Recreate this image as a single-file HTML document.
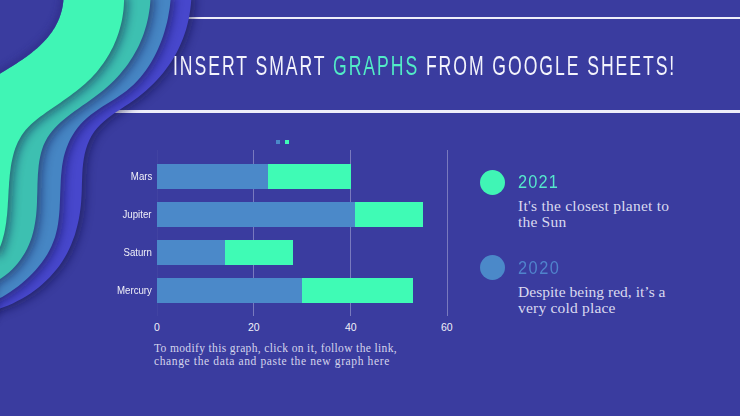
<!DOCTYPE html>
<html><head><meta charset="utf-8"><style>
html,body{margin:0;padding:0}
body{width:740px;height:416px;overflow:hidden;position:relative;background:#3a3c9f;font-family:"Liberation Sans",sans-serif}
.hline{position:absolute;height:2px;background:#eeeefa}
.bar{position:absolute;height:24.5px}
.grid{position:absolute;top:150px;height:166px;width:1px;background:rgba(255,255,255,0.32)}
.leg{position:absolute;top:140px;width:4px;height:4px}
.circ{position:absolute;left:480px;width:25px;height:25px;border-radius:50%}
</style></head><body>
<div class="hline" style="left:150px;top:16.6px;width:590px"></div>
<div class="hline" style="left:100px;top:110px;height:2.5px;width:640px"></div>
<svg width="740" height="416" style="position:absolute;left:0;top:0">
<defs>
<filter id="bs" x="-50%" y="-50%" width="200%" height="200%"><feGaussianBlur stdDeviation="5"/></filter>
<filter id="bl"><feGaussianBlur stdDeviation="3"/></filter>
<clipPath id="tlc"><path d="M-4.4,76.3 L-3.3,75.6 L-2.1,74.9 L-0.9,74.2 L0.3,73.4 L1.5,72.7 L2.7,72.0 L4.0,71.3 L5.2,70.5 L6.4,69.8 L7.6,69.0 L8.8,68.3 L10.0,67.5 L11.3,66.8 L12.5,66.0 L13.7,65.3 L14.9,64.5 L16.1,63.7 L17.3,62.9 L18.5,62.1 L19.7,61.3 L20.9,60.5 L22.1,59.7 L23.3,58.9 L24.5,58.1 L25.7,57.2 L26.8,56.4 L28.0,55.5 L29.1,54.7 L30.3,53.8 L31.4,52.9 L32.5,52.0 L33.6,51.1 L34.7,50.2 L35.8,49.3 L36.9,48.4 L37.9,47.4 L39.0,46.5 L40.0,45.5 L41.0,44.5 L42.0,43.6 L43.0,42.6 L44.0,41.6 L44.9,40.5 L45.9,39.5 L46.8,38.5 L47.7,37.4 L48.6,36.3 L49.4,35.2 L50.3,34.1 L51.1,33.0 L51.9,31.9 L52.7,30.7 L53.4,29.6 L54.2,28.4 L54.9,27.2 L55.6,26.0 L56.2,24.8 L56.9,23.6 L57.5,22.3 L58.1,21.1 L58.6,19.8 L59.2,18.5 L59.7,17.1 L60.1,15.8 L60.6,14.5 L61.0,13.1 L61.4,11.7 L61.8,10.3 L62.1,8.9 L62.4,7.4 L62.7,6.0 L62.9,4.5 L63.1,3.0 L63.3,1.4 L63.4,-0.1 L63.5,-1.7 L63.5,-3.2 L63.6,-4.9 L63.6,-6.5 L64,-20 L-20,-20 L-20,77 Z"/></clipPath>
</defs>
<g filter="url(#bs)" opacity="0.5"><path d="M191.5,-6.4 L191.3,-1.0 L190.9,4.2 L190.3,9.4 L189.5,14.5 L188.6,19.6 L187.4,24.5 L186.1,29.4 L184.5,34.2 L182.8,38.9 L180.9,43.5 L178.9,48.0 L176.7,52.4 L174.3,56.7 L171.7,60.9 L169.0,65.0 L166.1,69.1 L163.1,73.0 L159.9,76.8 L156.5,80.5 L153.1,84.1 L149.4,87.6 L145.7,91.0 L141.7,94.3 L137.7,97.4 L133.5,100.5 L129.2,103.4 L124.9,106.3 L120.5,109.2 L116.2,112.1 L112.0,115.0 L108.0,118.0 L104.1,121.2 L100.5,124.5 L97.2,128.0 L94.2,131.8 L91.6,135.8 L89.4,140.0 L87.5,144.5 L86.0,149.1 L84.7,153.9 L83.8,158.8 L83.1,163.8 L82.6,168.8 L82.3,173.9 L82.1,179.1 L81.9,184.2 L81.8,189.4 L81.6,194.6 L81.3,199.8 L80.9,205.0 L80.3,210.1 L79.5,215.2 L78.6,220.2 L77.5,225.1 L76.2,230.0 L74.8,234.9 L73.1,239.6 L71.3,244.2 L69.3,248.8 L67.1,253.2 L64.7,257.6 L62.1,261.8 L59.2,265.9 L56.2,269.8 L53.0,273.6 L49.7,277.3 L46.1,280.8 L42.4,284.2 L38.6,287.4 L34.6,290.5 L30.5,293.4 L26.2,296.2 L21.9,298.7 L17.4,301.1 L12.8,303.4 L8.2,305.4 L3.4,307.3 L-1.4,309.0 L-6.3,310.5 L-20,330 L-20,-20 Z" fill="#101040" transform="translate(4,2)"/></g>
<path d="M191.5,-6.4 L191.3,-1.0 L190.9,4.2 L190.3,9.4 L189.5,14.5 L188.6,19.6 L187.4,24.5 L186.1,29.4 L184.5,34.2 L182.8,38.9 L180.9,43.5 L178.9,48.0 L176.7,52.4 L174.3,56.7 L171.7,60.9 L169.0,65.0 L166.1,69.1 L163.1,73.0 L159.9,76.8 L156.5,80.5 L153.1,84.1 L149.4,87.6 L145.7,91.0 L141.7,94.3 L137.7,97.4 L133.5,100.5 L129.2,103.4 L124.9,106.3 L120.5,109.2 L116.2,112.1 L112.0,115.0 L108.0,118.0 L104.1,121.2 L100.5,124.5 L97.2,128.0 L94.2,131.8 L91.6,135.8 L89.4,140.0 L87.5,144.5 L86.0,149.1 L84.7,153.9 L83.8,158.8 L83.1,163.8 L82.6,168.8 L82.3,173.9 L82.1,179.1 L81.9,184.2 L81.8,189.4 L81.6,194.6 L81.3,199.8 L80.9,205.0 L80.3,210.1 L79.5,215.2 L78.6,220.2 L77.5,225.1 L76.2,230.0 L74.8,234.9 L73.1,239.6 L71.3,244.2 L69.3,248.8 L67.1,253.2 L64.7,257.6 L62.1,261.8 L59.2,265.9 L56.2,269.8 L53.0,273.6 L49.7,277.3 L46.1,280.8 L42.4,284.2 L38.6,287.4 L34.6,290.5 L30.5,293.4 L26.2,296.2 L21.9,298.7 L17.4,301.1 L12.8,303.4 L8.2,305.4 L3.4,307.3 L-1.4,309.0 L-6.3,310.5 L-20,330 L-20,-20 Z" fill="#4747cc"/>
<g filter="url(#bs)" opacity="0.5"><path d="M171.0,-5.8 L170.7,-1.2 L170.2,3.4 L169.7,8.0 L168.9,12.6 L168.1,17.3 L167.1,21.9 L165.9,26.6 L164.6,31.2 L163.2,35.8 L161.6,40.3 L159.8,44.8 L157.9,49.2 L155.9,53.6 L153.7,57.8 L151.3,62.0 L148.8,66.0 L146.1,70.0 L143.3,73.8 L140.3,77.5 L137.1,81.0 L133.8,84.4 L130.3,87.6 L126.6,90.7 L122.8,93.6 L118.8,96.3 L114.8,98.9 L110.7,101.5 L106.6,104.1 L102.5,106.6 L98.5,109.2 L94.6,111.9 L90.8,114.7 L87.2,117.7 L83.7,120.9 L80.5,124.2 L77.6,127.8 L74.9,131.5 L72.4,135.4 L70.1,139.5 L68.2,143.7 L66.5,148.0 L65.0,152.4 L63.8,156.8 L62.9,161.4 L62.1,166.0 L61.6,170.7 L61.1,175.4 L60.8,180.2 L60.6,185.0 L60.4,189.8 L60.2,194.6 L60.0,199.5 L59.8,204.3 L59.6,209.1 L59.2,213.9 L58.7,218.7 L58.1,223.4 L57.3,228.1 L56.2,232.7 L55.0,237.2 L53.4,241.6 L51.6,246.0 L49.5,250.3 L47.2,254.4 L44.6,258.5 L41.8,262.4 L38.8,266.3 L35.7,270.0 L32.4,273.6 L28.9,277.0 L25.3,280.3 L21.6,283.5 L17.9,286.5 L14.0,289.3 L10.1,292.0 L6.2,294.5 L2.2,296.9 L-1.7,299.0 L-5.7,301.0 L-20,330 L-20,-20 Z" fill="#101040" transform="translate(4,2)"/></g>
<path d="M171.0,-5.8 L170.7,-1.2 L170.2,3.4 L169.7,8.0 L168.9,12.6 L168.1,17.3 L167.1,21.9 L165.9,26.6 L164.6,31.2 L163.2,35.8 L161.6,40.3 L159.8,44.8 L157.9,49.2 L155.9,53.6 L153.7,57.8 L151.3,62.0 L148.8,66.0 L146.1,70.0 L143.3,73.8 L140.3,77.5 L137.1,81.0 L133.8,84.4 L130.3,87.6 L126.6,90.7 L122.8,93.6 L118.8,96.3 L114.8,98.9 L110.7,101.5 L106.6,104.1 L102.5,106.6 L98.5,109.2 L94.6,111.9 L90.8,114.7 L87.2,117.7 L83.7,120.9 L80.5,124.2 L77.6,127.8 L74.9,131.5 L72.4,135.4 L70.1,139.5 L68.2,143.7 L66.5,148.0 L65.0,152.4 L63.8,156.8 L62.9,161.4 L62.1,166.0 L61.6,170.7 L61.1,175.4 L60.8,180.2 L60.6,185.0 L60.4,189.8 L60.2,194.6 L60.0,199.5 L59.8,204.3 L59.6,209.1 L59.2,213.9 L58.7,218.7 L58.1,223.4 L57.3,228.1 L56.2,232.7 L55.0,237.2 L53.4,241.6 L51.6,246.0 L49.5,250.3 L47.2,254.4 L44.6,258.5 L41.8,262.4 L38.8,266.3 L35.7,270.0 L32.4,273.6 L28.9,277.0 L25.3,280.3 L21.6,283.5 L17.9,286.5 L14.0,289.3 L10.1,292.0 L6.2,294.5 L2.2,296.9 L-1.7,299.0 L-5.7,301.0 L-20,330 L-20,-20 Z" fill="#4686c4"/>
<g filter="url(#bs)" opacity="0.5"><path d="M150.7,-6.3 L150.5,-1.6 L150.2,3.0 L149.8,7.5 L149.1,11.9 L148.4,16.3 L147.5,20.6 L146.4,24.9 L145.2,29.1 L143.9,33.2 L142.4,37.3 L140.7,41.3 L139.0,45.2 L137.1,49.0 L135.0,52.8 L132.9,56.5 L130.6,60.1 L128.2,63.7 L125.6,67.2 L122.9,70.6 L120.1,73.9 L117.2,77.2 L114.1,80.4 L111.0,83.5 L107.7,86.5 L104.3,89.4 L100.8,92.3 L97.2,95.1 L93.5,97.8 L89.8,100.5 L86.0,103.2 L82.2,105.8 L78.5,108.5 L74.8,111.1 L71.1,113.8 L67.6,116.5 L64.2,119.3 L60.9,122.1 L57.7,125.0 L54.8,128.0 L52.0,131.2 L49.5,134.4 L47.3,137.8 L45.3,141.4 L43.6,145.1 L42.2,148.9 L41.0,152.9 L40.1,157.0 L39.3,161.2 L38.7,165.5 L38.3,169.9 L37.9,174.4 L37.7,178.9 L37.5,183.4 L37.4,188.0 L37.3,192.6 L37.1,197.2 L37.0,201.9 L36.8,206.4 L36.5,211.0 L36.1,215.5 L35.5,219.9 L34.8,224.3 L34.0,228.6 L33.0,232.8 L31.8,236.9 L30.4,240.9 L28.8,244.9 L27.1,248.7 L25.1,252.4 L22.9,256.1 L20.6,259.6 L18.0,263.0 L15.2,266.2 L12.1,269.4 L8.9,272.4 L5.4,275.2 L1.6,278.0 L-2.4,280.6 L-6.6,283.0 L-20,330 L-20,-20 Z" fill="#101040" transform="translate(4,2)"/></g>
<path d="M150.7,-6.3 L150.5,-1.6 L150.2,3.0 L149.8,7.5 L149.1,11.9 L148.4,16.3 L147.5,20.6 L146.4,24.9 L145.2,29.1 L143.9,33.2 L142.4,37.3 L140.7,41.3 L139.0,45.2 L137.1,49.0 L135.0,52.8 L132.9,56.5 L130.6,60.1 L128.2,63.7 L125.6,67.2 L122.9,70.6 L120.1,73.9 L117.2,77.2 L114.1,80.4 L111.0,83.5 L107.7,86.5 L104.3,89.4 L100.8,92.3 L97.2,95.1 L93.5,97.8 L89.8,100.5 L86.0,103.2 L82.2,105.8 L78.5,108.5 L74.8,111.1 L71.1,113.8 L67.6,116.5 L64.2,119.3 L60.9,122.1 L57.7,125.0 L54.8,128.0 L52.0,131.2 L49.5,134.4 L47.3,137.8 L45.3,141.4 L43.6,145.1 L42.2,148.9 L41.0,152.9 L40.1,157.0 L39.3,161.2 L38.7,165.5 L38.3,169.9 L37.9,174.4 L37.7,178.9 L37.5,183.4 L37.4,188.0 L37.3,192.6 L37.1,197.2 L37.0,201.9 L36.8,206.4 L36.5,211.0 L36.1,215.5 L35.5,219.9 L34.8,224.3 L34.0,228.6 L33.0,232.8 L31.8,236.9 L30.4,240.9 L28.8,244.9 L27.1,248.7 L25.1,252.4 L22.9,256.1 L20.6,259.6 L18.0,263.0 L15.2,266.2 L12.1,269.4 L8.9,272.4 L5.4,275.2 L1.6,278.0 L-2.4,280.6 L-6.6,283.0 L-20,330 L-20,-20 Z" fill="#3dc0b1"/>
<g filter="url(#bs)" opacity="0.5"><path d="M124.0,-6.1 L124.1,-2.1 L124.0,1.8 L123.8,5.8 L123.5,9.7 L123.0,13.6 L122.4,17.4 L121.7,21.3 L120.8,25.0 L119.8,28.8 L118.7,32.5 L117.4,36.2 L116.1,39.8 L114.6,43.3 L113.0,46.9 L111.2,50.3 L109.4,53.7 L107.4,57.0 L105.4,60.3 L103.2,63.5 L100.9,66.6 L98.5,69.7 L96.1,72.7 L93.5,75.5 L90.8,78.4 L88.0,81.1 L85.2,83.7 L82.2,86.3 L79.2,88.8 L76.1,91.2 L73.0,93.6 L69.8,96.0 L66.6,98.3 L63.3,100.6 L60.0,102.9 L56.7,105.2 L53.3,107.4 L50.0,109.7 L46.7,112.1 L43.4,114.4 L40.1,116.8 L37.0,119.2 L34.0,121.8 L31.1,124.3 L28.4,127.0 L25.8,129.8 L23.5,132.7 L21.4,135.7 L19.6,138.9 L17.9,142.1 L16.4,145.4 L15.1,148.8 L14.0,152.3 L13.0,155.9 L12.2,159.6 L11.4,163.3 L10.8,167.0 L10.3,170.9 L9.8,174.7 L9.5,178.6 L9.1,182.6 L8.9,186.5 L8.6,190.5 L8.4,194.5 L8.2,198.5 L7.9,202.5 L7.7,206.5 L7.4,210.4 L7.1,214.4 L6.6,218.3 L6.2,222.2 L5.6,226.1 L4.9,229.9 L4.2,233.6 L3.2,237.3 L2.2,241.0 L1.0,244.5 L-0.4,248.0 L-1.9,251.4 L-3.7,254.7 L-20,250 L-20,80 L-4.4,76.3 L-3.3,75.6 L-2.1,74.9 L-0.9,74.2 L0.3,73.4 L1.5,72.7 L2.7,72.0 L4.0,71.3 L5.2,70.5 L6.4,69.8 L7.6,69.0 L8.8,68.3 L10.0,67.5 L11.3,66.8 L12.5,66.0 L13.7,65.3 L14.9,64.5 L16.1,63.7 L17.3,62.9 L18.5,62.1 L19.7,61.3 L20.9,60.5 L22.1,59.7 L23.3,58.9 L24.5,58.1 L25.7,57.2 L26.8,56.4 L28.0,55.5 L29.1,54.7 L30.3,53.8 L31.4,52.9 L32.5,52.0 L33.6,51.1 L34.7,50.2 L35.8,49.3 L36.9,48.4 L37.9,47.4 L39.0,46.5 L40.0,45.5 L41.0,44.5 L42.0,43.6 L43.0,42.6 L44.0,41.6 L44.9,40.5 L45.9,39.5 L46.8,38.5 L47.7,37.4 L48.6,36.3 L49.4,35.2 L50.3,34.1 L51.1,33.0 L51.9,31.9 L52.7,30.7 L53.4,29.6 L54.2,28.4 L54.9,27.2 L55.6,26.0 L56.2,24.8 L56.9,23.6 L57.5,22.3 L58.1,21.1 L58.6,19.8 L59.2,18.5 L59.7,17.1 L60.1,15.8 L60.6,14.5 L61.0,13.1 L61.4,11.7 L61.8,10.3 L62.1,8.9 L62.4,7.4 L62.7,6.0 L62.9,4.5 L63.1,3.0 L63.3,1.4 L63.4,-0.1 L63.5,-1.7 L63.5,-3.2 L63.6,-4.9 L63.6,-6.5 Z" fill="#101040" transform="translate(4,2)"/></g>
<path d="M124.0,-6.1 L124.1,-2.1 L124.0,1.8 L123.8,5.8 L123.5,9.7 L123.0,13.6 L122.4,17.4 L121.7,21.3 L120.8,25.0 L119.8,28.8 L118.7,32.5 L117.4,36.2 L116.1,39.8 L114.6,43.3 L113.0,46.9 L111.2,50.3 L109.4,53.7 L107.4,57.0 L105.4,60.3 L103.2,63.5 L100.9,66.6 L98.5,69.7 L96.1,72.7 L93.5,75.5 L90.8,78.4 L88.0,81.1 L85.2,83.7 L82.2,86.3 L79.2,88.8 L76.1,91.2 L73.0,93.6 L69.8,96.0 L66.6,98.3 L63.3,100.6 L60.0,102.9 L56.7,105.2 L53.3,107.4 L50.0,109.7 L46.7,112.1 L43.4,114.4 L40.1,116.8 L37.0,119.2 L34.0,121.8 L31.1,124.3 L28.4,127.0 L25.8,129.8 L23.5,132.7 L21.4,135.7 L19.6,138.9 L17.9,142.1 L16.4,145.4 L15.1,148.8 L14.0,152.3 L13.0,155.9 L12.2,159.6 L11.4,163.3 L10.8,167.0 L10.3,170.9 L9.8,174.7 L9.5,178.6 L9.1,182.6 L8.9,186.5 L8.6,190.5 L8.4,194.5 L8.2,198.5 L7.9,202.5 L7.7,206.5 L7.4,210.4 L7.1,214.4 L6.6,218.3 L6.2,222.2 L5.6,226.1 L4.9,229.9 L4.2,233.6 L3.2,237.3 L2.2,241.0 L1.0,244.5 L-0.4,248.0 L-1.9,251.4 L-3.7,254.7 L-20,250 L-20,80 L-4.4,76.3 L-3.3,75.6 L-2.1,74.9 L-0.9,74.2 L0.3,73.4 L1.5,72.7 L2.7,72.0 L4.0,71.3 L5.2,70.5 L6.4,69.8 L7.6,69.0 L8.8,68.3 L10.0,67.5 L11.3,66.8 L12.5,66.0 L13.7,65.3 L14.9,64.5 L16.1,63.7 L17.3,62.9 L18.5,62.1 L19.7,61.3 L20.9,60.5 L22.1,59.7 L23.3,58.9 L24.5,58.1 L25.7,57.2 L26.8,56.4 L28.0,55.5 L29.1,54.7 L30.3,53.8 L31.4,52.9 L32.5,52.0 L33.6,51.1 L34.7,50.2 L35.8,49.3 L36.9,48.4 L37.9,47.4 L39.0,46.5 L40.0,45.5 L41.0,44.5 L42.0,43.6 L43.0,42.6 L44.0,41.6 L44.9,40.5 L45.9,39.5 L46.8,38.5 L47.7,37.4 L48.6,36.3 L49.4,35.2 L50.3,34.1 L51.1,33.0 L51.9,31.9 L52.7,30.7 L53.4,29.6 L54.2,28.4 L54.9,27.2 L55.6,26.0 L56.2,24.8 L56.9,23.6 L57.5,22.3 L58.1,21.1 L58.6,19.8 L59.2,18.5 L59.7,17.1 L60.1,15.8 L60.6,14.5 L61.0,13.1 L61.4,11.7 L61.8,10.3 L62.1,8.9 L62.4,7.4 L62.7,6.0 L62.9,4.5 L63.1,3.0 L63.3,1.4 L63.4,-0.1 L63.5,-1.7 L63.5,-3.2 L63.6,-4.9 L63.6,-6.5 Z" fill="#40f5b5"/>
<path d="M-4.4,76.3 L-3.3,75.6 L-2.1,74.9 L-0.9,74.2 L0.3,73.4 L1.5,72.7 L2.7,72.0 L4.0,71.3 L5.2,70.5 L6.4,69.8 L7.6,69.0 L8.8,68.3 L10.0,67.5 L11.3,66.8 L12.5,66.0 L13.7,65.3 L14.9,64.5 L16.1,63.7 L17.3,62.9 L18.5,62.1 L19.7,61.3 L20.9,60.5 L22.1,59.7 L23.3,58.9 L24.5,58.1 L25.7,57.2 L26.8,56.4 L28.0,55.5 L29.1,54.7 L30.3,53.8 L31.4,52.9 L32.5,52.0 L33.6,51.1 L34.7,50.2 L35.8,49.3 L36.9,48.4 L37.9,47.4 L39.0,46.5 L40.0,45.5 L41.0,44.5 L42.0,43.6 L43.0,42.6 L44.0,41.6 L44.9,40.5 L45.9,39.5 L46.8,38.5 L47.7,37.4 L48.6,36.3 L49.4,35.2 L50.3,34.1 L51.1,33.0 L51.9,31.9 L52.7,30.7 L53.4,29.6 L54.2,28.4 L54.9,27.2 L55.6,26.0 L56.2,24.8 L56.9,23.6 L57.5,22.3 L58.1,21.1 L58.6,19.8 L59.2,18.5 L59.7,17.1 L60.1,15.8 L60.6,14.5 L61.0,13.1 L61.4,11.7 L61.8,10.3 L62.1,8.9 L62.4,7.4 L62.7,6.0 L62.9,4.5 L63.1,3.0 L63.3,1.4 L63.4,-0.1 L63.5,-1.7 L63.5,-3.2 L63.6,-4.9 L63.6,-6.5 L64,-20 L-20,-20 L-20,77 Z" fill="#3a3c9f"/>
<g clip-path="url(#tlc)"><path d="M-4.4,76.3 L-3.3,75.6 L-2.1,74.9 L-0.9,74.2 L0.3,73.4 L1.5,72.7 L2.7,72.0 L4.0,71.3 L5.2,70.5 L6.4,69.8 L7.6,69.0 L8.8,68.3 L10.0,67.5 L11.3,66.8 L12.5,66.0 L13.7,65.3 L14.9,64.5 L16.1,63.7 L17.3,62.9 L18.5,62.1 L19.7,61.3 L20.9,60.5 L22.1,59.7 L23.3,58.9 L24.5,58.1 L25.7,57.2 L26.8,56.4 L28.0,55.5 L29.1,54.7 L30.3,53.8 L31.4,52.9 L32.5,52.0 L33.6,51.1 L34.7,50.2 L35.8,49.3 L36.9,48.4 L37.9,47.4 L39.0,46.5 L40.0,45.5 L41.0,44.5 L42.0,43.6 L43.0,42.6 L44.0,41.6 L44.9,40.5 L45.9,39.5 L46.8,38.5 L47.7,37.4 L48.6,36.3 L49.4,35.2 L50.3,34.1 L51.1,33.0 L51.9,31.9 L52.7,30.7 L53.4,29.6 L54.2,28.4 L54.9,27.2 L55.6,26.0 L56.2,24.8 L56.9,23.6 L57.5,22.3 L58.1,21.1 L58.6,19.8 L59.2,18.5 L59.7,17.1 L60.1,15.8 L60.6,14.5 L61.0,13.1 L61.4,11.7 L61.8,10.3 L62.1,8.9 L62.4,7.4 L62.7,6.0 L62.9,4.5 L63.1,3.0 L63.3,1.4 L63.4,-0.1 L63.5,-1.7 L63.5,-3.2 L63.6,-4.9 L63.6,-6.5" fill="none" stroke="#2a2880" stroke-width="8" opacity="0.5" filter="url(#bl)"/></g>
</svg>
<div class="leg" style="left:276px;background:#4b89c9"></div>
<div class="leg" style="left:285px;background:#3ffbb5"></div>
<div class="grid" style="left:156.5px;opacity:0.12"></div><div class="grid" style="left:253.3px;opacity:1"></div><div class="grid" style="left:350.1px;opacity:1"></div><div class="grid" style="left:446.9px;opacity:1"></div><div class="bar" style="left:157.0px;top:164px;width:111.3px;background:#4b89c9"></div><div class="bar" style="left:268.3px;top:164px;width:82.3px;background:#3ffbb5"></div><div class="bar" style="left:157.0px;top:202px;width:198.4px;background:#4b89c9"></div><div class="bar" style="left:355.4px;top:202px;width:67.8px;background:#3ffbb5"></div><div class="bar" style="left:157.0px;top:240px;width:67.8px;background:#4b89c9"></div><div class="bar" style="left:224.8px;top:240px;width:67.8px;background:#3ffbb5"></div><div class="bar" style="left:157.0px;top:278px;width:145.2px;background:#4b89c9"></div><div class="bar" style="left:302.2px;top:278px;width:111.3px;background:#3ffbb5"></div>
<div class="circ" style="top:170px;background:#40f5b5"></div>
<div class="circ" style="top:255px;background:#4b89c9"></div>
<div id="title" style="position:absolute;left:172.5px;top:50.5px;font-family:'Liberation Sans',sans-serif;font-size:27.5px;line-height:30px;letter-spacing:3.05px;color:#f4f4fc;white-space:nowrap;transform-origin:0 0;transform:scaleX(0.64)">INSERT SMART <span style="color:#52ecc6">GRAPHS</span> FROM GOOGLE SHEETS!</div>
<div id="l_mars" style="position:absolute;right:588px;top:169px;font-family:'Liberation Sans',sans-serif;font-size:10.5px;line-height:14px;letter-spacing:0px;color:#f0f0f8;white-space:nowrap;transform-origin:100% 0;transform:scaleX(0.92)">Mars</div>
<div id="l_jup" style="position:absolute;right:588px;top:207px;font-family:'Liberation Sans',sans-serif;font-size:10.5px;line-height:14px;letter-spacing:0px;color:#f0f0f8;white-space:nowrap;transform-origin:100% 0;transform:scaleX(0.92)">Jupiter</div>
<div id="l_sat" style="position:absolute;right:588px;top:245px;font-family:'Liberation Sans',sans-serif;font-size:10.5px;line-height:14px;letter-spacing:0px;color:#f0f0f8;white-space:nowrap;transform-origin:100% 0;transform:scaleX(0.92)">Saturn</div>
<div id="l_mer" style="position:absolute;right:588px;top:283px;font-family:'Liberation Sans',sans-serif;font-size:10.5px;line-height:14px;letter-spacing:0px;color:#f0f0f8;white-space:nowrap;transform-origin:100% 0;transform:scaleX(0.92)">Mercury</div>
<div id="a0" style="position:absolute;left:154px;top:320px;font-family:'Liberation Sans',sans-serif;font-size:10.5px;line-height:14px;letter-spacing:0px;color:#f0f0f8;white-space:nowrap;transform-origin:0 0;transform:scaleX(1)">0</div>
<div id="a20" style="position:absolute;left:248px;top:320px;font-family:'Liberation Sans',sans-serif;font-size:10.5px;line-height:14px;letter-spacing:0px;color:#f0f0f8;white-space:nowrap;transform-origin:0 0;transform:scaleX(1)">20</div>
<div id="a40" style="position:absolute;left:345px;top:320px;font-family:'Liberation Sans',sans-serif;font-size:10.5px;line-height:14px;letter-spacing:0px;color:#f0f0f8;white-space:nowrap;transform-origin:0 0;transform:scaleX(1)">40</div>
<div id="a60" style="position:absolute;left:441px;top:320px;font-family:'Liberation Sans',sans-serif;font-size:10.5px;line-height:14px;letter-spacing:0px;color:#f0f0f8;white-space:nowrap;transform-origin:0 0;transform:scaleX(1)">60</div>
<div id="yr1" style="position:absolute;left:518px;top:171.5px;font-family:'Liberation Sans',sans-serif;font-size:19px;line-height:20px;letter-spacing:1.35px;color:#55e8cc;white-space:nowrap;transform-origin:0 0;transform:scaleX(0.86)">2021</div>
<div id="yr2" style="position:absolute;left:518px;top:257.5px;font-family:'Liberation Sans',sans-serif;font-size:19px;line-height:20px;letter-spacing:1.75px;color:#5083cc;white-space:nowrap;transform-origin:0 0;transform:scaleX(0.86)">2020</div>
<div id="b1a" style="position:absolute;left:518px;top:197px;font-family:'Liberation Serif',serif;font-size:15.5px;line-height:18px;letter-spacing:0.25px;color:#d9d9ef;white-space:nowrap;transform-origin:0 0;transform:scaleX(1)">It's the closest planet to</div>
<div id="b1b" style="position:absolute;left:518px;top:213px;font-family:'Liberation Serif',serif;font-size:15.5px;line-height:18px;letter-spacing:0.2px;color:#d9d9ef;white-space:nowrap;transform-origin:0 0;transform:scaleX(1)">the Sun</div>
<div id="b2a" style="position:absolute;left:518px;top:283px;font-family:'Liberation Serif',serif;font-size:15.5px;line-height:18px;letter-spacing:0.03px;color:#d9d9ef;white-space:nowrap;transform-origin:0 0;transform:scaleX(1)">Despite being red, it’s a</div>
<div id="b2b" style="position:absolute;left:518px;top:299px;font-family:'Liberation Serif',serif;font-size:15.5px;line-height:18px;letter-spacing:0.2px;color:#d9d9ef;white-space:nowrap;transform-origin:0 0;transform:scaleX(1)">very cold place</div>
<div id="c1" style="position:absolute;left:154px;top:341px;font-family:'Liberation Serif',serif;font-size:11.5px;line-height:14px;letter-spacing:0.36px;color:#d4d4ec;white-space:nowrap;transform-origin:0 0;transform:scaleX(1)">To modify this graph, click on it, follow the link,</div>
<div id="c2" style="position:absolute;left:154px;top:354px;font-family:'Liberation Serif',serif;font-size:11.5px;line-height:14px;letter-spacing:0.63px;color:#d4d4ec;white-space:nowrap;transform-origin:0 0;transform:scaleX(1)">change the data and paste the new graph here</div>
</body></html>
